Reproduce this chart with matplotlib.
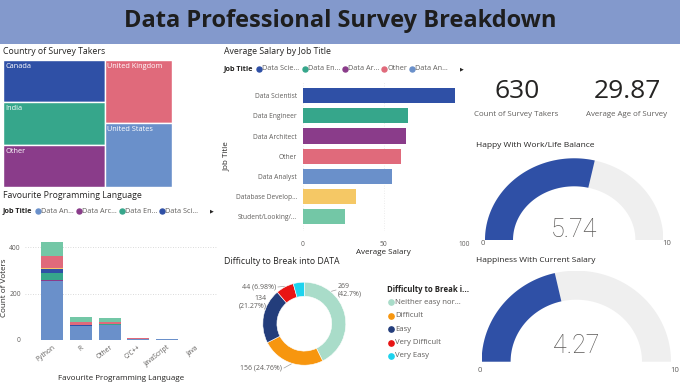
import numpy as np
import matplotlib
matplotlib.use('Agg')
import matplotlib.pyplot as plt
from matplotlib.patches import Rectangle
from matplotlib.lines import Line2D

plt.rcParams['font.family'] = ['Open Sans', 'DejaVu Sans']

W, H = 680, 382

# ---- data ----
countries = ['Canada', 'India', 'Other', 'United Kingdom', 'United States']
country_counts = [127, 129, 127, 125, 127]
country_colors = ['#2F50A6', '#36A68B', '#8A3C8A', '#E06A7B', '#6A90CA']

job_titles = ['Data Scientist', 'Data Engineer', 'Data Architect', 'Other',
              'Data Analyst', 'Database Develop...', 'Student/Looking/...']
avg_salary = [94, 65, 64, 60.5, 55.3, 33, 26.5]
job_colors = ['#2F50A6', '#36A68B', '#8A3C8A', '#E06A7B', '#6A90CA', '#F5C865', '#73C7A6']

languages = ['Python', 'R', 'Other', 'C/C++', 'JavaScript', 'Java']
votes_analyst = [255, 61, 64, 3, 3, 0]
votes_architect = [3, 0, 1, 2, 0, 0]
votes_engineer = [29, 1, 4, 0, 1, 0]
votes_scientist = [19, 4, 0, 0, 0, 0]
votes_dbdev = [2, 0, 0, 0, 0, 0]
votes_other = [55, 12, 10, 2, 1, 1]
votes_student = [59, 20, 14, 0, 0, 1]
stack_colors = ['#6A90CA', '#8A3C8A', '#36A68B', '#2F50A6', '#F5C865', '#E06A7B', '#73C7A6']

difficulty = ['Neither easy nor...', 'Difficult', 'Easy', 'Very Difficult', 'Very Easy']
difficulty_counts = [269, 156, 134, 44, 27]
difficulty_colors = ['#A9DCC9', '#F7960F', '#233D7B', '#E81414', '#1DD3EE']

survey_count = 630
avg_age = 29.87
work_life = 5.74
salary_happy = 4.27

DARK = '#252423'
GREY = '#605E5C'
TITLE_FS = 6.3

fig = plt.figure(figsize=(W / 100, H / 100), dpi=100)
fig.patch.set_facecolor('white')


def px_axes(x0, y0, x1, y1):
    return fig.add_axes([x0 / W, 1 - y1 / H, (x1 - x0) / W, (y1 - y0) / H])


def ftext(x, y, s, **kw):
    return fig.text(x / W, 1 - y / H, s, **kw)


def legend_row(x, y, title, labels, colors, arrow_x):
    r = fig.canvas.get_renderer()
    t = ftext(x, y, title, fontsize=5.2, fontweight='bold', va='center', color=DARK)
    cur = t.get_window_extent(r).x1 + 4
    for lab, c in zip(labels, colors):
        fig.add_artist(Line2D([(cur + 2) / W], [1 - y / H], marker='o', ms=3.6,
                              color=c, transform=fig.transFigure))
        tt = ftext(cur + 5, y, lab, fontsize=5.2, va='center', color=GREY)
        cur = tt.get_window_extent(r).x1 + 3
    ftext(arrow_x, y, '\u25B6', fontsize=3.5, va='center', color=DARK,
          family='DejaVu Sans')


# header band
fig.add_artist(Rectangle((0, 1 - 44 / H), 1, 44 / H, transform=fig.transFigure,
                         facecolor='#8399CC', edgecolor='none'))
ftext(340, 21, 'Data Professional Survey Breakdown', fontsize=17, fontweight='bold',
      ha='center', va='center', color='#1E1E1E')

# ---- treemap: country ----
ftext(3, 52, 'Country of Survey Takers', fontsize=TITLE_FS, va='center', color=DARK)
ax = px_axes(3, 60, 172, 187)
ax.set_xlim(0, 1)
ax.set_ylim(1, 0)
ax.axis('off')
total = sum(country_counts)
x = 0
for grp in [[0, 1, 2], [3, 4]]:
    gsum = sum(country_counts[i] for i in grp)
    w = gsum / total
    y = 0
    for i in grp:
        h = country_counts[i] / gsum
        ax.add_patch(Rectangle((x, y), w, h, facecolor=country_colors[i],
                               edgecolor='white', lw=1))
        ax.text(x + 0.012, y + 0.025, countries[i], color='white', fontsize=5.3,
                va='top', ha='left')
        y += h
    x += w

# ---- average salary by job title ----
ftext(224, 52, 'Average Salary by Job Title', fontsize=TITLE_FS, va='center', color=DARK)
legend_row(224, 69, 'Job Title',
           ['Data Scie...', 'Data En...', 'Data Ar...', 'Other', 'Data An...'],
           job_colors[:5], 460)
ax = px_axes(302.5, 81.6, 464.5, 230.8)
yy = np.arange(len(job_titles))
ax.barh(yy, avg_salary, height=0.75, color=job_colors)
ax.set_ylim(len(job_titles) - 0.3, -0.7)
ax.set_xlim(0, 100)
ax.set_xticks([0, 50, 100])
ax.set_yticks(yy)
ax.set_yticklabels(job_titles)
ax.tick_params(length=0, labelsize=4.8, labelcolor=GREY, pad=4)
ax.tick_params(axis='x', pad=7)
for s in ax.spines.values():
    s.set_visible(False)
ax.grid(axis='x', color='#E6E6E6', lw=0.6, linestyle=(0, (1, 2)))
ax.set_axisbelow(True)
ax.set_xlabel('Average Salary', fontsize=5.8, color=DARK, labelpad=1)
ax.set_ylabel('Job Title', fontsize=5.8, color=DARK, labelpad=4)

# ---- favourite programming language ----
ftext(3, 196, 'Favourite Programming Language', fontsize=TITLE_FS, va='center', color=DARK)
legend_row(3, 211, 'Job Title',
           ['Data An...', 'Data Arc...', 'Data En...', 'Data Sci...'],
           stack_colors[:4], 210)
ax = px_axes(25, 235.4, 218, 340)
xx = np.arange(len(languages))
bottom = np.zeros(len(languages))
for vals, c in zip([votes_analyst, votes_architect, votes_engineer, votes_scientist,
                    votes_dbdev, votes_other, votes_student], stack_colors):
    ax.bar(xx, vals, width=0.77, bottom=bottom, color=c, edgecolor='none')
    bottom += np.array(vals)
ax.set_xlim(-0.96, 5.79)
ax.set_ylim(0, 450)
ax.set_yticks([0, 200, 400])
ax.set_xticks(xx)
ax.set_xticklabels(languages, rotation=38, ha='right', rotation_mode='anchor')
ax.tick_params(length=0, labelsize=4.8, labelcolor=GREY, pad=3)
for s in ax.spines.values():
    s.set_visible(False)
ax.grid(axis='y', color='#CFCFCF', lw=0.6, linestyle=(0, (1, 2)))
ax.set_axisbelow(True)
ax.set_xlabel('Favourite Programming Language', fontsize=5.8, color=DARK, labelpad=5)
ax.set_ylabel('Count of Voters', fontsize=5.8, color=DARK)
ax.yaxis.set_label_coords(-0.09, 0.5)

# ---- difficulty donut ----
ftext(224, 261, 'Difficulty to Break into DATA', fontsize=TITLE_FS, va='center', color=DARK)
cx, cy, rad = 304.3, 323.7, 41.5
ax = px_axes(cx - rad, cy - rad, cx + rad, cy + rad)
ax.pie(difficulty_counts, colors=difficulty_colors, startangle=90, counterclock=False,
       radius=1, wedgeprops=dict(width=0.34, edgecolor='white', lw=0.4))
ax.set_xlim(-1, 1)
ax.set_ylim(-1, 1)
dtotal = sum(difficulty_counts)
# label placement (px) and leader-line anchor angle, per slice
lab_pos = [(338, 290, 'left', '\n', 50), (282, 368, 'right', ' ', -108),
           (267, 302, 'right', '\n', None), (276, 287, 'right', ' ', 118), None]
for cnt, lp in zip(difficulty_counts, lab_pos):
    if lp is None:
        continue
    lx, ly, ha, sep, ang = lp
    pct = f'{cnt / dtotal * 100:.2f}'.rstrip('0').rstrip('.')
    ftext(lx, ly, f'{cnt}{sep}({pct}%)', fontsize=5, ha=ha, va='center', color=GREY,
          linespacing=1.1)
    if ang is not None:
        a = np.radians(ang)
        px0 = cx + rad * 1.02 * np.cos(a)
        py0 = cy - rad * 1.02 * np.sin(a)
        px1 = lx - 2 if ha == 'left' else lx + 2
        fig.add_artist(Line2D([px0 / W, px1 / W], [1 - py0 / H, 1 - ly / H],
                              color='#9E9E9E', lw=0.5, transform=fig.transFigure))
ftext(387, 290, 'Difficulty to Break i...', fontsize=5.6, fontweight='bold',
      va='center', color=DARK)
for i, (lab, c) in enumerate(zip(difficulty, difficulty_colors)):
    ly = 302.3 + i * 13.4
    fig.add_artist(Line2D([391 / W], [1 - ly / H], marker='o', ms=3.8, color=c,
                          transform=fig.transFigure))
    ftext(395, ly, lab, fontsize=5.6, va='center', color=GREY)

# ---- cards ----
ftext(517, 92, f'{survey_count}', fontsize=19, ha='center', va='center', color=DARK)
ftext(516.5, 114, 'Count of Survey Takers', fontsize=5.7, ha='center', va='center', color=GREY)
ftext(627, 92, f'{avg_age:.2f}', fontsize=19, ha='center', va='center', color=DARK)
ftext(626.5, 114, 'Average Age of Survey', fontsize=5.7, ha='center', va='center', color=GREY)


# ---- gauges ----
def gauge(title, ty, gx, gy, rx, ry, thick, value, val_y, lab_y, vmax=10):
    ftext(476, ty, title, fontsize=6.0, va='center', color=DARK)
    ax = px_axes(gx - rx, gy - ry, gx + rx, gy)
    ax.set_xlim(-rx, rx)
    ax.set_ylim(0, ry)
    ax.axis('off')

    def band(a0, a1):
        th = np.linspace(a0, a1, 120)
        xo, yo = rx * np.cos(th), ry * np.sin(th)
        xi, yi = (rx - thick) * np.cos(th[::-1]), (ry - thick) * np.sin(th[::-1])
        return np.r_[xo, xi], np.r_[yo, yi]

    ax.fill(*band(np.pi, 0), color='#EFEFEF', lw=0)
    ax.fill(*band(np.pi, np.pi * (1 - value / vmax)), color='#2F50A6', lw=0)
    ftext(gx, val_y, f'{value:.2f}', fontsize=18, ha='center', va='center',
          color='#5A5856', family=['Roboto', 'DejaVu Sans'], fontweight='light')
    ftext(gx - rx - 4, lab_y, '0', fontsize=5.5, ha='left', va='center', color=GREY)
    ftext(gx + rx + 8, lab_y, f'{vmax}', fontsize=5.5, ha='right', va='center', color=GREY)


gauge('Happy With Work/Life Balance', 145, 574.2, 240, 89.2, 81.7, 28, work_life, 230, 243.5)
gauge('Happiness With Current Salary', 261, 576.3, 361.7, 94.7, 91, 29, salary_happy, 346, 370.5)

fig.savefig('out.png', dpi=100, facecolor='white')
